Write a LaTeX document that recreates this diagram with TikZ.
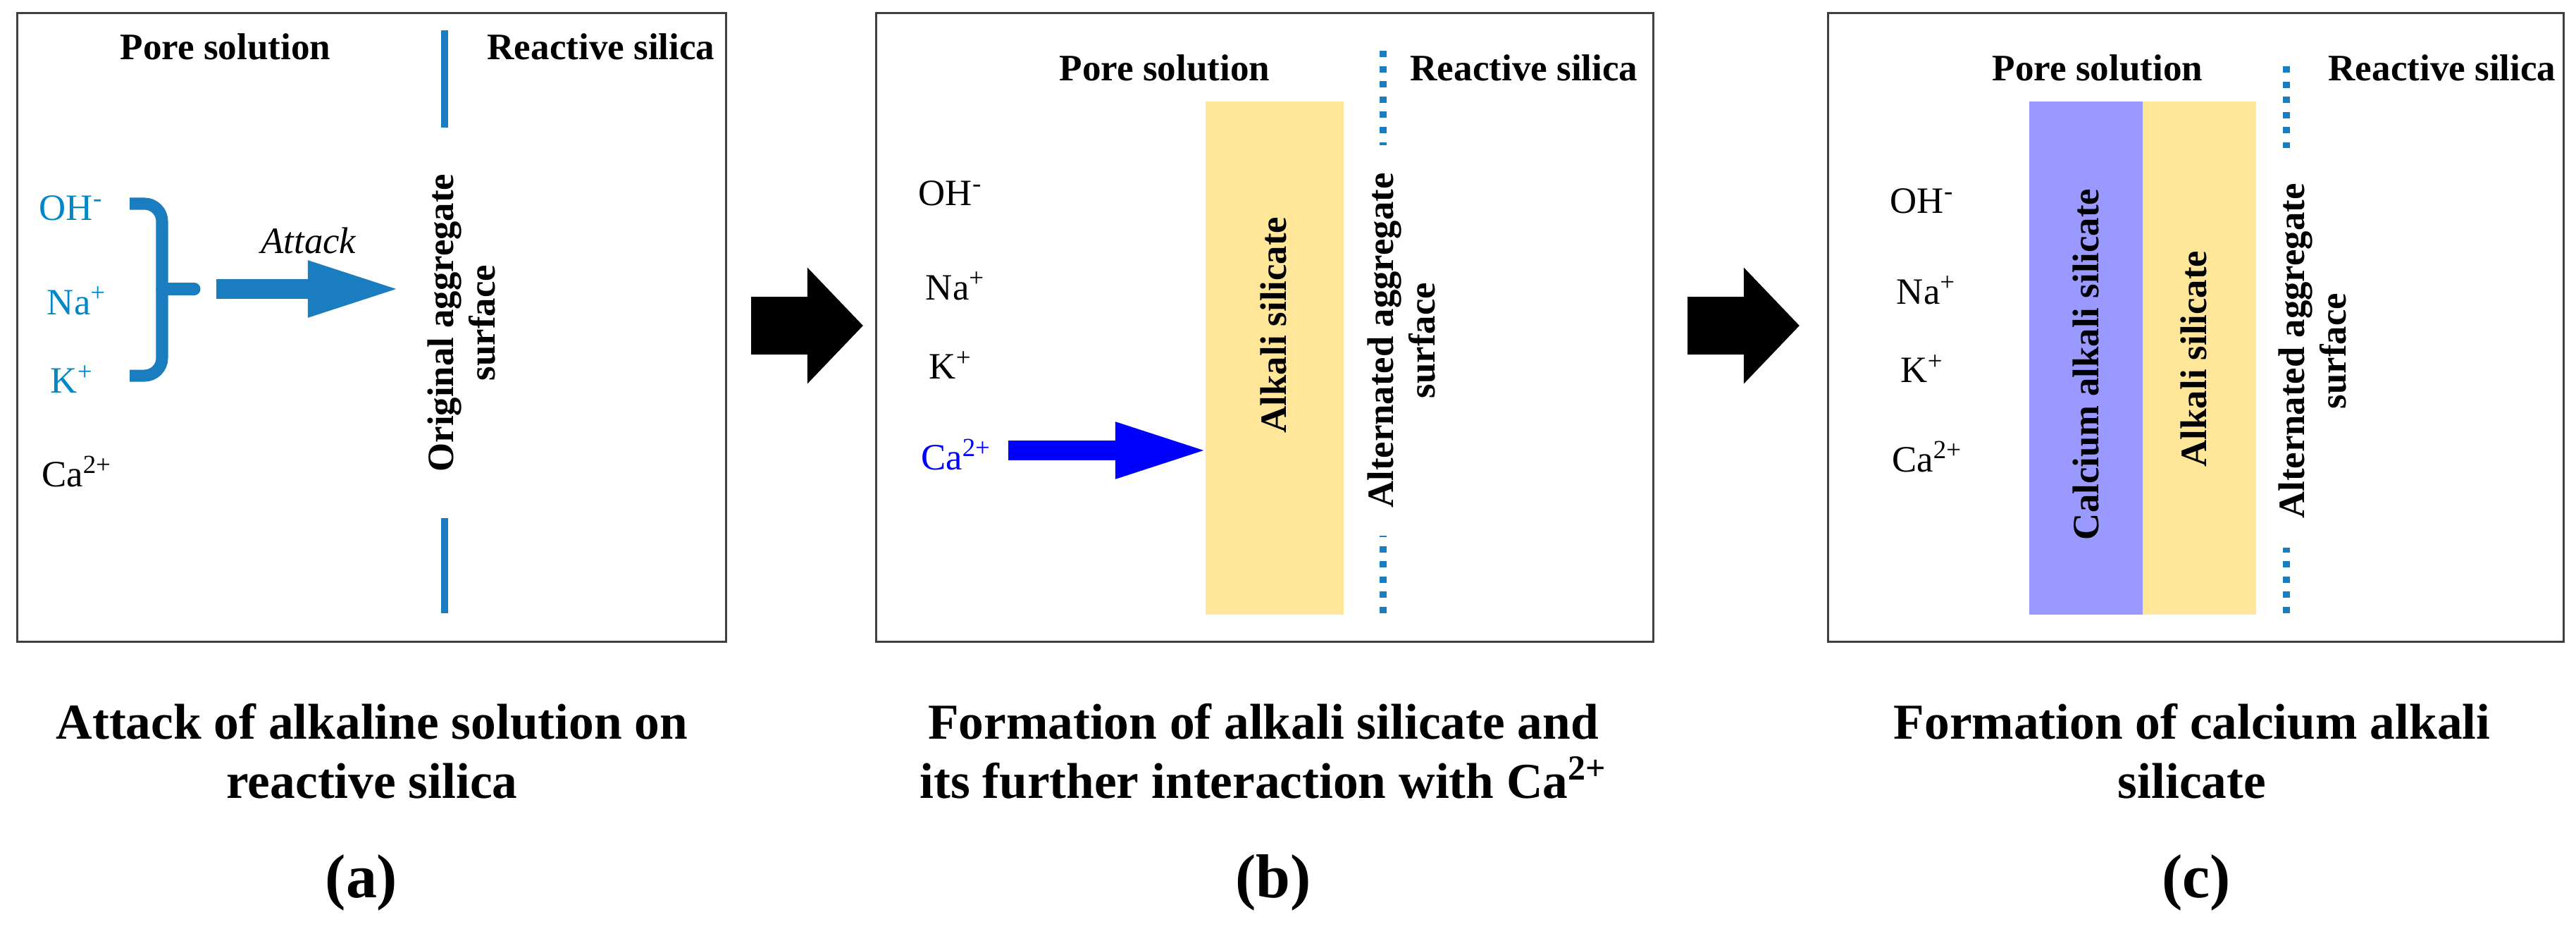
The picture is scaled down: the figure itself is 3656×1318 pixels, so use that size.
\documentclass[tikz,border=0pt]{standalone}
\usepackage{fontspec}
\usepackage{tikz}
\usetikzlibrary{arrows.meta}
\setmainfont{Liberation Serif}
\tikzstyle{diagramPlot} = [x = .01cm, y = -.01cm, every node/.style={inner sep = 0pt}]
\definecolor{surfaceBlue}{RGB}{26,125,192}
\definecolor{ionBlue}{RGB}{0,135,200}
\definecolor{calciumBlue}{RGB}{0,0,255}
\definecolor{alkaliYellow}{RGB}{255,230,153}
\definecolor{calciumPurple}{RGB}{153,153,255}
\definecolor{frameGray}{RGB}{64,64,64}
\tikzstyle{panelStyle} = [draw = frameGray, line width = .035cm, minimum height = 8.91cm]
\tikzstyle{zoneHead} = [font=\fontsize{15.1}{18}\selectfont\bfseries]
\tikzstyle{ionText} = [font=\fontsize{15}{18}\selectfont]
\tikzstyle{surfaceText} = [font=\fontsize{15}{17}\selectfont\bfseries, rotate = 90, align = center]
\tikzstyle{captionText} = [font=\fontsize{20.3}{24}\selectfont\bfseries, align = center]
\tikzstyle{tagText} = [font=\fontsize{25}{30}\selectfont\bfseries]
\tikzstyle{surfaceSolid} = [color=surfaceBlue, line width = .105cm]
\tikzstyle{surfaceDotted} = [surfaceSolid, dash pattern = on .09cm off .126cm]
\tikzstyle{bigArrow} = [line width = .81cm, -{Triangle[length = .79cm, width = 1.6cm]}]
\tikzstyle{thinArrow} = [line width = .28cm, -{Triangle[length = 1.34cm, width = .72cm]}]
\newcommand{\zoneHeads}[3]{
  \node [zoneHead] (poreHead#1) at (#2) {Pore solution};
  \node [zoneHead] (silicaHead#1) at (#3) {Reactive silica};
}
\newcommand{\ionLabel}[4]{\node [ionText, text = #4] (#1) at (#2) {#3};}
\begin{document}
\begin{tikzpicture}[diagramPlot]
        \useasboundingbox (0,0) rectangle (3656,1318);
        \fill [white] (0,0) rectangle (3656,1318);

        % panel a
        \node [panelStyle, minimum width = 10.05cm] (panelA) at (527.5,464.5) {};
        \zoneHeads{A}{320,66}{853,66}
        \draw [surfaceSolid] (631,43) -- (631,181);
        \draw [surfaceSolid] (631,735) -- (631,870);
        \ionLabel{ohA}{101,295}{OH\textsuperscript{-}}{ionBlue}
        \ionLabel{naA}{109,427}{Na\textsuperscript{+}}{ionBlue}
        \ionLabel{kA}{102,538}{K\textsuperscript{+}}{ionBlue}
        \ionLabel{caA}{109,669}{Ca\textsuperscript{2+}}{black}
        \draw [surfaceBlue, line width = .17cm, rounded corners = .25cm] (184,289) -- (230,289) -- (230,533) -- (184,533);
        \draw [surfaceBlue, line width = .17cm, line cap = round] (230,410) -- (276,410);
        \coordinate (attackStart) at (307,410);
        \coordinate (attackEnd) at (571,410);
        \draw [thinArrow, surfaceBlue] (attackStart) -- (attackEnd);
        \node [ionText, font=\fontsize{15}{18}\selectfont\itshape] (attackText) at (438,341) {Attack};
        \node [surfaceText] (surfaceA) at (655,458) {Original aggregate\\surface};

        % panel b
        \node [panelStyle, minimum width = 11.02cm] (panelB) at (1795,464.5) {};
        \zoneHeads{B}{1653,96}{2163,96}
        \draw [surfaceDotted] (1963,72) -- (1963,206);
        \draw [surfaceDotted] (1963,870) -- (1963,760);
        \fill [alkaliYellow] (1711,144) rectangle (1907,872);
        \node [surfaceText] (alkaliB) at (1807,461) {Alkali silicate};
        \ionLabel{ohB}{1349,274}{OH\textsuperscript{-}}{black}
        \ionLabel{naB}{1356,406}{Na\textsuperscript{+}}{black}
        \ionLabel{kB}{1349,518}{K\textsuperscript{+}}{black}
        \ionLabel{caB}{1357,645}{Ca\textsuperscript{2+}}{calciumBlue}
        \coordinate (calciumStart) at (1431,639);
        \coordinate (calciumEnd) at (1717,639);
        \draw [thinArrow, calciumBlue] (calciumStart) -- (calciumEnd);
        \node [surfaceText] (surfaceB) at (1989,483) {Alternated aggregate\\surface};

        % panel c
        \node [panelStyle, minimum width = 10.43cm] (panelC) at (3116.5,464.5) {};
        \zoneHeads{C}{2977,96}{3466,96}
        \draw [surfaceDotted] (3245,94) -- (3245,210);
        \draw [surfaceDotted] (3245,870) -- (3245,777);
        \fill [calciumPurple] (2880,144) rectangle (3041,872);
        \fill [alkaliYellow] (3041,144) rectangle (3202,872);
        \node [surfaceText] (calciumC) at (2960,517) {Calcium alkali silicate};
        \node [surfaceText] (alkaliC) at (3113,509) {Alkali silicate};
        \ionLabel{ohC}{2728,285}{OH\textsuperscript{-}}{black}
        \ionLabel{naC}{2734,412}{Na\textsuperscript{+}}{black}
        \ionLabel{kC}{2728,523}{K\textsuperscript{+}}{black}
        \ionLabel{caC}{2735,648}{Ca\textsuperscript{2+}}{black}
        \node [surfaceText] (surfaceC) at (3282,498) {Alternated aggregate\\surface};

        % arrows between the panels
        \coordinate (stepOneStart) at (1066,462);
        \coordinate (stepOneEnd) at (1225,462);
        \coordinate (stepTwoStart) at (2395,462);
        \coordinate (stepTwoEnd) at (2554,462);
        \draw [bigArrow] (stepOneStart) -- (stepOneEnd);
        \draw [bigArrow] (stepTwoStart) -- (stepTwoEnd);

        % captions
        \node [captionText] (captionA) at (528,1066) {Attack of alkaline solution on\\reactive silica};
        \node [captionText] (captionB) at (1793,1066) {Formation of alkali silicate and\\its further interaction with Ca\textsuperscript{2+}};
        \node [captionText] (captionC) at (3111,1066) {Formation of calcium alkali\\silicate};
        \node [tagText] (tagA) at (513,1252) {(a)};
        \node [tagText] (tagB) at (1807,1252) {(b)};
        \node [tagText] (tagC) at (3117,1252) {(c)};
      \end{tikzpicture}
\end{document}
